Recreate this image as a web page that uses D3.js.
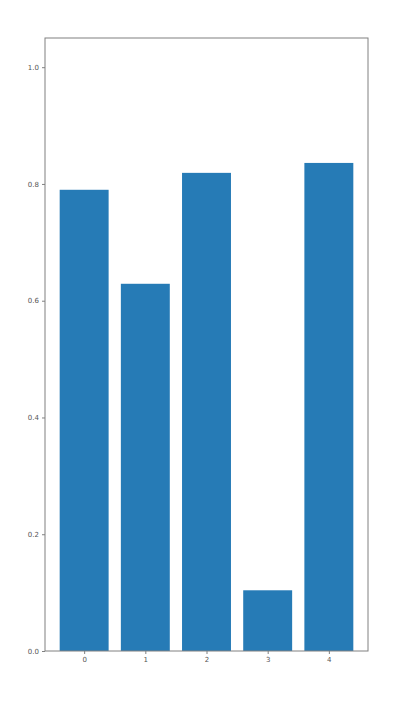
<!DOCTYPE html>
<html>
<head>
<meta charset="utf-8">
<script src="https://cdn.jsdelivr.net/npm/d3@7"></script>
<style>
  body { margin: 0; background: #fff; }
  text { font-family: "DejaVu Sans", sans-serif; }
</style>
</head>
<body>
<div id="chart"></div>
<script>
// bar data
const categories = ['0', '1', '2', '3', '4'];
const values = [0.790, 0.629, 0.819, 0.104, 0.836];
const yTicks = [0.0, 0.2, 0.4, 0.6, 0.8, 1.0];

const width = 405, height = 720;
const margin = { top: 38, right: 37, bottom: 69, left: 45 };

const svg = d3.select('#chart')
    .append('svg')
    .attr('width', width)
    .attr('height', height);

// matplotlib-like limits: bar width 0.8, 5% margins
const x = d3.scaleLinear()
    .domain([-0.64, 4.64])
    .range([margin.left, width - margin.right]);

const y = d3.scaleLinear()
    .domain([0, 1.05])
    .range([height - margin.bottom, margin.top]);

const barW = 0.8;

// Bars
svg.selectAll('rect.bar')
    .data(values)
    .enter()
    .append('rect')
    .attr('class', 'bar')
    .attr('x', (d, i) => x(i - barW / 2))
    .attr('width', x(barW) - x(0))
    .attr('y', d => y(d))
    .attr('height', d => y(0) - y(d))
    .attr('fill', '#1f77b4')
    .attr('opacity', 0.97);

// Frame
svg.append('rect')
    .attr('x', margin.left)
    .attr('y', margin.top)
    .attr('width', width - margin.left - margin.right)
    .attr('height', height - margin.top - margin.bottom)
    .attr('fill', 'none')
    .attr('stroke', '#808080')
    .attr('stroke-width', 1);

// Axes
const yAxis = d3.axisLeft(y)
    .tickValues(yTicks)
    .tickFormat(d3.format('.1f'))
    .tickSize(3)
    .tickPadding(3);

const xAxis = d3.axisBottom(x)
    .tickValues(categories.map((c, i) => i))
    .tickFormat((d, i) => categories[i])
    .tickSize(3)
    .tickPadding(3);

const gy = svg.append('g')
    .attr('transform', `translate(${margin.left},0)`)
    .call(yAxis);

const gx = svg.append('g')
    .attr('transform', `translate(0,${height - margin.bottom})`)
    .call(xAxis);

[gx, gy].forEach(g => {
    g.select('.domain').remove();
    g.selectAll('line').attr('stroke', '#808080');
    g.selectAll('text')
        .attr('fill', '#555')
        .attr('font-size', '7px')
        .style('font-family', '"DejaVu Sans", sans-serif');
});
</script>
</body>
</html>
